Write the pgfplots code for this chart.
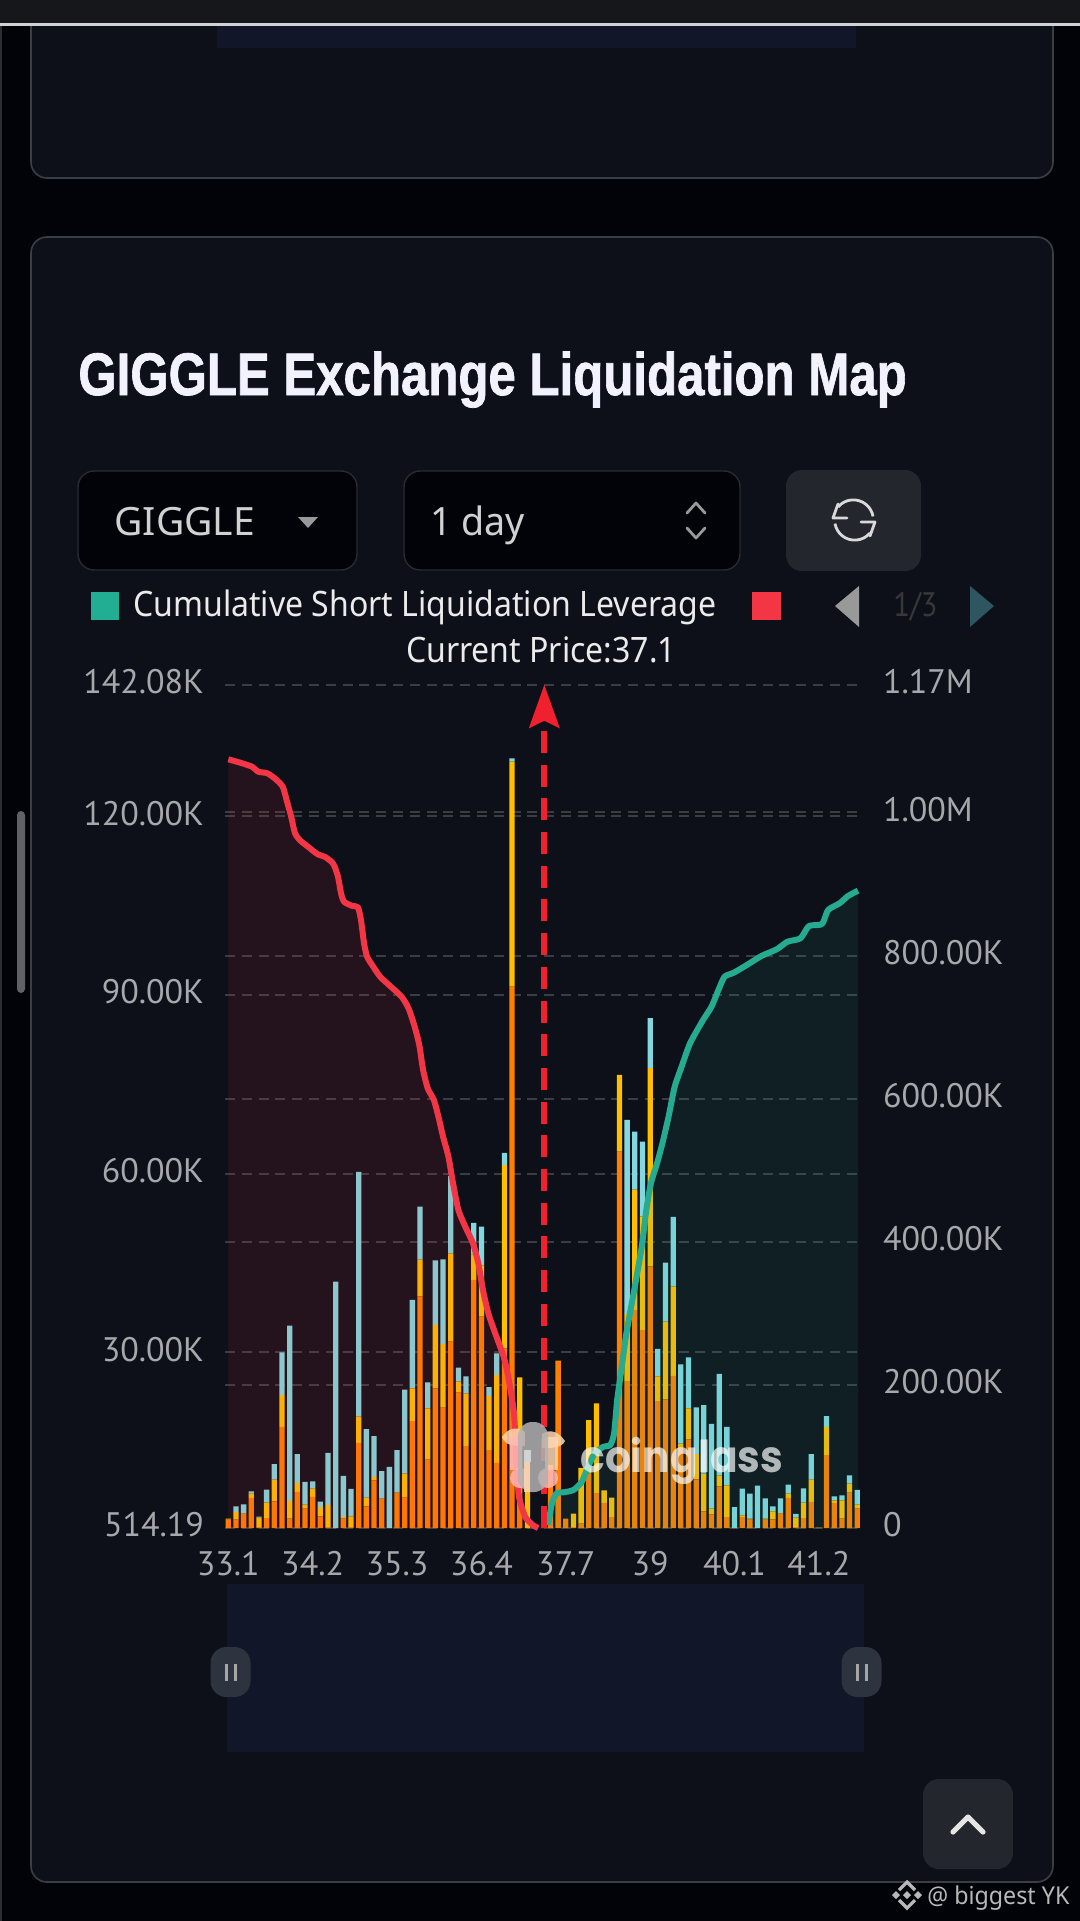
\documentclass[border=0pt]{standalone}
\usepackage{fontspec}
\usepackage{graphicx}
\usepackage{pgfplots}
\usepackage{pgfplotstable}
\pgfplotsset{compat=1.18}
\usetikzlibrary{arrows.meta}
\setmainfont{Noto Sans}
\newfontfamily\tickfont{PT Sans}
\newfontfamily\titlefont[BoldFeatures={FakeBold=1.3}]{Liberation Sans}
\newfontfamily\wmfont{Poppins}
\definecolor{pagebg}{HTML}{020308}
\definecolor{cardbg}{HTML}{0D1018}
\definecolor{cardln}{HTML}{3A3E45}
\definecolor{btn}{HTML}{23272D}
\definecolor{zoombg}{HTML}{111728}
\definecolor{gridc}{HTML}{3A3D42}
\definecolor{tickc}{HTML}{A6A8AC}
\definecolor{barO}{HTML}{FF7F00}
\definecolor{barY}{HTML}{FFBF00}
\definecolor{barB}{HTML}{82D8DE}
\definecolor{redl}{HTML}{F23645}
\definecolor{arrowred}{HTML}{F0202E}
\definecolor{teal1}{HTML}{26AB90}
\definecolor{topbar}{HTML}{16171B}
\definecolor{topline}{HTML}{D0D2D6}
\definecolor{legteal}{HTML}{22AE93}
\definecolor{navdim}{HTML}{2E5560}
\definecolor{handle}{HTML}{2E3340}
\definecolor{wmpeach}{HTML}{FFD6B0}
\definecolor{wmpink}{HTML}{FFB8B8}
\definecolor{edgeln}{HTML}{2A2E34}
\definecolor{scrollc}{HTML}{606166}
\pgfplotstableread{
i o y b
0 1.91 0.17 0
1 1.91 1.29 0.95
2 2.92 0 1.57
3 5.56 0.73 0.39
4 0.68 1.57 0.17
5 2.19 2.58 2.19
6 5.00 3.65 2.58
7 17.51 5.33 7.18
8 2.08 2.97 29.45
9 6.57 1.51 4.82
10 3.76 0.67 3.81
11 5.73 1.40 1.23
12 2.47 1.57 0.90
13 0.68 3.70 8.75
14 0.51 0 41.35
15 2.08 0.28 6.90
16 0.68 1.80 4.60
17 14.82 4.38 41.12
18 4.16 1.46 11.50
19 8.53 0.56 6.84
20 5.45 0 4.60
21 0.51 0 10.27
22 6.46 0 7.12
23 5.62 4.04 14.08
24 18.46 5.50 14.87
25 39.39 6.17 8.92
26 12.01 8.58 4.38
27 23.96 10.66 10.83
28 20.71 10.72 14.19
29 31.81 14.81 12.96
30 23.23 1.85 2.36
31 14.25 8.86 2.86
32 42.19 4.21 5.33
33 36.02 8.58 6.51
34 13.58 9.09 1.51
35 11.45 14.75 3.65
36 30.69 30.74 2.08
37 91.39 37.76 0.56
38 6.29 19.52 0
39 0.51 10.83 2.24
40 0.51 0 0.34
41 0.51 0 0
42 11.06 0 0
43 28.62 0 0
44 2.08 0 0
45 0.68 2.24 0
46 1.24 9.37 0
47 9.65 8.98 0
48 6.40 15.03 0
49 4.72 2.13 0
50 2.36 3.25 0
51 63.68 12.90 0
52 25.19 11.28 32.54
53 37.14 20.20 9.71
54 33.78 19.07 12.51
55 44.44 33.27 8.42
56 21.83 4.15 4.60
57 22.11 13.07 9.87
58 26.04 15.03 11.67
59 14.14 0.56 13.30
60 15.38 5.22 8.58
61 8.70 4.21 7.85
62 3.32 6.34 11.50
63 2.81 0.95 14.25
64 7.52 1.85 17.00
65 2.36 5.33 9.82
66 0.51 0 3.53
67 2.36 0.28 4.49
68 1.91 0.17 4.21
69 0.51 0 7.12
70 1.91 0.17 3.42
71 1.97 1.35 0.84
72 2.92 0.11 2.47
73 5.56 0.73 1.51
74 0.68 1.57 0.62
75 2.19 2.58 2.41
76 4.89 3.76 4.26
77 0.57 0 0
78 12.74 4.77 1.80
79 4.72 0.45 0.67
80 2.08 3.09 0.84
81 6.46 1.51 1.40
82 3.76 0.67 2.47
}\bars
\pgfplotstableread{
x v
0 1074.3
1.4 1070.1
3.1 1064.0
3.9 1057.0
5.1 1054.8
6.2 1046.4
7.1 1036.0
7.6 1017.4
8.2 994.1
8.7 970.9
9.4 960.6
10.4 952.2
11.6 942.0
12.7 937.4
13.7 928.0
14.3 910.3
14.7 887.0
15.1 875.3
16.1 869.7
16.9 867.5
17.3 849.7
17.7 817.2
18.1 798.4
18.9 784.5
19.8 770.5
21.2 756.5
22.6 742.5
23.5 726.3
24.3 700.6
24.9 675.0
25.4 640.1
26.0 614.5
26.8 598.2
27.4 574.8
28.0 546.9
28.7 518.9
29.3 481.7
30.0 444.4
30.9 421.1
31.9 397.9
32.6 369.9
33.2 332.6
33.9 300.1
34.8 272.1
35.9 239.4
36.5 211.5
37.2 164.9
37.4 132.4
37.6 85.7
37.9 43.7
38.7 15.8
39.7 4.2
40.4 0
}\redline
\pgfplotstableread{
x v
41.7 4
42.2 34.5
42.8 48.5
43.7 49.9
45.0 53.1
46.1 64.7
46.9 85.7
47.8 104.4
48.9 113.6
49.8 116.0
50.3 132.4
50.7 178.9
51.3 225.4
51.9 272.1
53.0 337.2
53.9 393.1
54.5 444.4
55.1 481.7
55.9 509.7
56.6 537.6
57.4 574.8
58.2 616.8
59.1 644.7
60.2 677.4
61.9 710.0
63.0 728.6
63.9 751.9
64.7 770.5
65.9 776.1
67.6 786.8
69.5 799.4
71.5 808.8
72.9 819.4
74.6 824.2
75.7 841.3
77.4 844.1
78.2 863.7
79.7 873.1
80.8 883.3
82.1 890.7
}\tealline
\newcommand{\sx}[2]{\scalebox{#1}[1]{#2}}
\begin{document}
\begin{tikzpicture}
\begin{scope}[x=0.5pt,y=-0.5pt]
\fill[pagebg] (0,0) rectangle (1080,1921);
\fill[edgeln] (0,26) rectangle (2,1921);
% top card
\begin{scope}
\clip (0,0) rectangle (1080,1921);
\filldraw[fill=cardbg,draw=cardln,line width=0.8pt,rounded corners=8pt] (31,-30) rectangle (1053,178);
\end{scope}
\fill[zoombg] (217,20) rectangle (856,48);
\fill[topbar] (0,0) rectangle (1080,23);
\fill[topline] (0,23) rectangle (1080,26);
% main card
\filldraw[fill=cardbg,draw=cardln,line width=0.8pt,rounded corners=8pt] (31,237) rectangle (1053,1882);
\fill[scrollc,rounded corners=2pt] (17,811) rectangle (25,993);
% title
\node[anchor=base west,inner sep=0pt,text=white!95!blue] at (78,395) {\sx{0.82}{\titlefont\bfseries\fontsize{30}{32}\selectfont GIGGLE Exchange Liquidation Map}};
% controls
\filldraw[fill=pagebg,draw=cardln!70!black,line width=0.7pt,rounded corners=8pt] (78,471) rectangle (357,570);
\filldraw[fill=pagebg,draw=cardln!70!black,line width=0.7pt,rounded corners=8pt] (404,471) rectangle (740,570);
\fill[btn,rounded corners=8pt] (786,470) rectangle (921,571);
\node[anchor=base west,inner sep=0pt,text=white!82!black] at (114,535) {\sx{1.0}{\fontsize{19.5}{22}\selectfont GIGGLE}};
\fill[white!60!black] (298,517) -- (318,517) -- (308,528) -- cycle;
\node[anchor=base west,inner sep=0pt,text=white!82!black] at (430,535) {\sx{0.965}{\fontsize{19.5}{22}\selectfont 1 day}};
\draw[white!60!black,line width=1.4pt,line cap=round,line join=round] (687,513) -- (696,503) -- (705,513);
\draw[white!60!black,line width=1.4pt,line cap=round,line join=round] (687,528) -- (696,538) -- (705,528);
\draw[white!85!black,line width=1.4pt] (838,507) arc (220:350:20);
\draw[white!85!black,line width=1.4pt] (870,533) arc (40:170:20);
\draw[white!85!black,line width=1.4pt,line cap=round,line join=round] (838,504) -- (833,518) -- (847,518);
\draw[white!85!black,line width=1.4pt,line cap=round,line join=round] (870,536) -- (875,522) -- (861,522);
% legend
\fill[legteal] (91,592) rectangle (119,620);
\node[anchor=base west,inner sep=0pt,text=white!92!black] at (133,616) {\sx{0.915}{\fontsize{17.5}{20}\selectfont Cumulative Short Liquidation Leverage}};
\fill[redl] (752,592) rectangle (781,620);
\fill[white!60!black] (859,586) -- (835,606) -- (859,627) -- cycle;
\node[anchor=base west,inner sep=0pt,text=white!22!black] at (893,616) {\sx{0.9}{\tickfont\fontsize{17}{20}\selectfont 1/3}};
\fill[navdim] (970,586) -- (994,606) -- (970,627) -- cycle;
\node[anchor=center,inner sep=0pt,text=white!92!black] at (541,650) {\sx{0.915}{\fontsize{17.5}{20}\selectfont Current Price:37.1}};
% data zoom
\fill[zoombg] (227,1584) rectangle (864,1752);
\foreach \xx in {230.5,861.5}{
\fill[handle,rounded corners=8pt] (\xx-20,1647) rectangle (\xx+20,1697);
\fill[white!65!black] (\xx-6,1664) rectangle (\xx-3,1681);
\fill[white!65!black] (\xx+3,1664) rectangle (\xx+6,1681);
}
% back to top
\fill[btn,rounded corners=8pt] (923,1779) rectangle (1013,1869);
\draw[white!90!black,line width=2.6pt,line cap=round,line join=round] (953,1832) -- (968,1817) -- (983,1832);
% credit
\foreach \a/\b in {907/1895,896/1895,918/1895}{
\fill[white!72!black] (\a-4,\b) -- (\a,\b-4) -- (\a+4,\b) -- (\a,\b+4) -- cycle;}
\draw[white!72!black,line width=1.6pt] (899,1890) -- (907,1882) -- (915,1890);
\draw[white!72!black,line width=1.6pt] (899,1900) -- (907,1908) -- (915,1900);
\node[anchor=base west,inner sep=0pt,text=white!72!black] at (927,1904) {\sx{0.945}{\fontsize{12.3}{14}\selectfont @ biggest YK}};
\end{scope}
% shared frame
\pgfplotsset{myframe/.style={
 at={(112.5pt,-764pt)},anchor=south west,scale only axis,
 width=318pt,height=421.65pt,
 xmin=-0.43,xmax=82.49,
 axis line style={draw=none},
 tick style={draw=none},
 ticklabel style={font=\tickfont\fontsize{17}{20}\selectfont,text=tickc},
 major grid style={draw=gridc,line width=1pt,dash pattern=on 5pt off 3.4pt},
}}
% right axis: grid and labels
\begin{axis}[myframe,ymin=0,ymax=1178.6,
 axis y line*=right,hide x axis,
 ymajorgrids,
 ytick={0,200,400,600,800,1000,1178.6},
 yticklabels={0,200.00K,400.00K,600.00K,800.00K,1.00M,1.17M},
 yticklabel style={anchor=west,xshift=7.5pt,yshift=1.5pt},
]
\end{axis}
% left axis: bars
\begin{axis}[myframe,ymin=0.51419,ymax=142.08,
 axis y line*=left,axis x line*=bottom,
 ymajorgrids,
 ybar stacked,bar width=2.65pt,
 ytick={0.51419,30,60,90,120,142.08},
 yticklabels={514.19,30.00K,60.00K,90.00K,120.00K,142.08K},
 yticklabel style={anchor=east,xshift=-7pt,yshift=1.5pt},
 xtick={0,11,22,33,44,55,66,77},
 xticklabels={33.1,34.2,35.3,36.4,37.7,39,40.1,41.2},
 xticklabel style={anchor=center,yshift=-18pt},
]
\addplot[fill=barO,draw=none] table[x=i,y=o]{\bars};
\addplot[fill=barY,draw=none] table[x=i,y=y]{\bars};
\addplot[fill=barB,draw=none] table[x=i,y=b]{\bars};
\end{axis}
% right axis: curves
\begin{axis}[myframe,ymin=0,ymax=1178.6,hide axis,clip=false]
\addplot[draw=none,fill=redl,fill opacity=0.1] table[x=x,y=v]{\redline} \closedcycle;
\addplot[draw=none,fill=teal1,fill opacity=0.1] table[x=x,y=v]{\tealline} \closedcycle;
\addplot[redl,line width=3pt,line join=round,smooth,tension=0.4] table[x=x,y=v]{\redline};
\addplot[teal1,line width=3pt,line join=round,smooth,tension=0.4] table[x=x,y=v]{\tealline};
\addplot[arrowred,line width=3pt,dash pattern=on 11pt off 5.85pt,
  -{Stealth[length=21.5pt,width=15pt,inset=3.5pt]}] coordinates {(41.2,0)(41.2,1178.6)};
\end{axis}
% watermark
\begin{scope}[x=0.5pt,y=-0.5pt]
\begin{scope}[opacity=0.85]
\fill[wmpeach] (502,1437) .. controls (510,1425) and (520,1428) .. (525,1432) -- (525,1446) .. controls (515,1446) and (505,1446) .. (502,1437) -- cycle;
\fill[wmpeach] (565,1441) .. controls (557,1429) and (547,1430) .. (542,1434) -- (542,1448) .. controls (552,1448) and (562,1448) .. (565,1441) -- cycle;
\fill[wmpink] (510,1437) rectangle (522,1470);
\fill[wmpeach] (545,1437) rectangle (558,1470);
\fill[wmpink] (520,1478) ellipse (10 and 10);
\fill[wmpink] (548,1478) ellipse (10 and 10);
\fill[white!70!black,rounded corners=7pt] (518,1422) rectangle (548,1492);
\fill[white!85!black] (524,1450) rectangle (531,1462);
\fill[wmpeach] (524,1462) rectangle (530,1492);
\end{scope}
\node[anchor=base west,inner sep=0pt,text=white,opacity=0.68] at (580,1472) {\sx{0.925}{\fontsize{22}{26}\selectfont\wmfont\bfseries coinglass}};
\end{scope}
\end{tikzpicture}
\end{document}
